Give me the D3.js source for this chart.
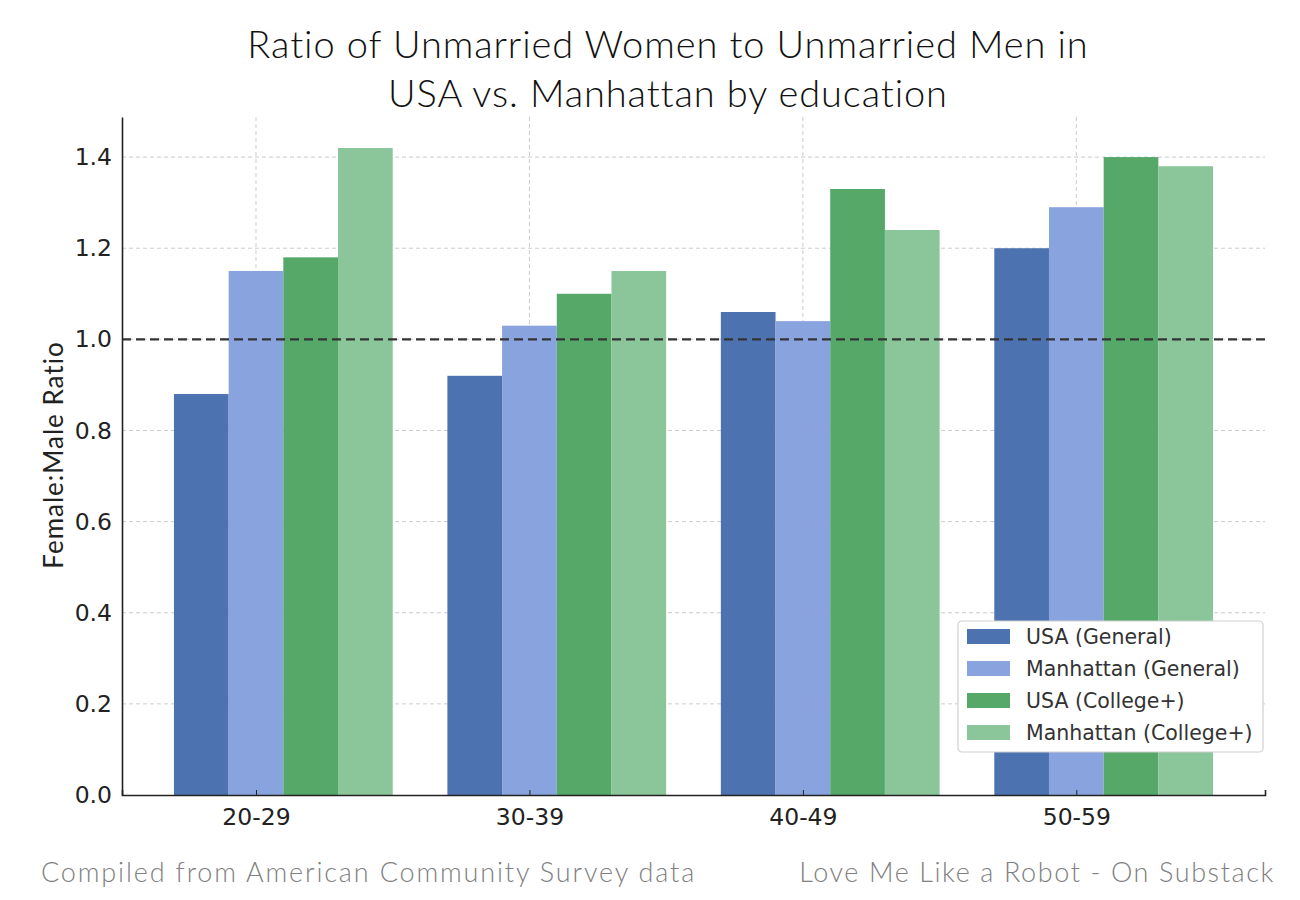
<!DOCTYPE html>
<html>
<head>
<meta charset="utf-8">
<script src="https://cdn.jsdelivr.net/npm/d3@7"></script>
<style>
  body { margin: 0; background: #fff; }
  svg { display: block; }
</style>
</head>
<body>
<div id="chart"></div>
<script>
// data
const ageGroups = ["20-29", "30-39", "40-49", "50-59"];
const seriesNames = ["USA (General)", "Manhattan (General)", "USA (College+)", "Manhattan (College+)"];
const usaGeneral = [0.88, 0.92, 1.06, 1.20];
const manhattanGeneral = [1.15, 1.03, 1.04, 1.29];
const usaCollege = [1.18, 1.10, 1.33, 1.40];
const manhattanCollege = [1.42, 1.15, 1.24, 1.38];
const yTicks = [0.0, 0.2, 0.4, 0.6, 0.8, 1.0, 1.2, 1.4];
const seriesColors = ["#4c72b0", "#89a3de", "#55a868", "#8ac699"];

const allSeries = [usaGeneral, manhattanGeneral, usaCollege, manhattanCollege];

const W = 1300, H = 900;
const margin = { top: 117, right: 35, bottom: 105, left: 122 };
const width = W - margin.left - margin.right;
const height = H - margin.top - margin.bottom;

const svg = d3.select("#chart").append("svg")
    .attr("width", W)
    .attr("height", H);

const g = svg.append("g")
    .attr("transform", `translate(${margin.left}, ${margin.top})`);

// scales
const x = d3.scaleLinear()
    .domain([-0.49, 3.69])
    .range([0, width]);

const y = d3.scaleLinear()
    .domain([0, 1.488])
    .range([height, 0]);

const barW = x(0.2) - x(0);
// bar offsets: tick sits on the second bar's centre
const offsets = [-0.2, 0, 0.2, 0.4];

// grid
g.append("g").selectAll("line")
    .data(yTicks.slice(1))
    .join("line")
    .attr("x1", 0).attr("x2", width)
    .attr("y1", d => y(d)).attr("y2", d => y(d))
    .attr("stroke", "#cccccc")
    .attr("stroke-width", 1)
    .attr("stroke-dasharray", "4,3");

g.append("g").selectAll("line")
    .data(ageGroups)
    .join("line")
    .attr("x1", (d, i) => x(i)).attr("x2", (d, i) => x(i))
    .attr("y1", 0).attr("y2", height)
    .attr("stroke", "#cccccc")
    .attr("stroke-width", 1)
    .attr("stroke-dasharray", "4,3");

// bars
allSeries.forEach((vals, s) => {
    g.append("g").selectAll("rect")
        .data(vals)
        .join("rect")
        .attr("x", (d, i) => x(i + offsets[s]) - barW / 2)
        .attr("y", d => y(d))
        .attr("width", barW)
        .attr("height", d => height - y(d))
        .attr("fill", seriesColors[s]);
});

// reference line at 1.0
g.append("line")
    .attr("x1", 0).attr("x2", width)
    .attr("y1", y(1)).attr("y2", y(1))
    .attr("stroke", "#333")
    .attr("stroke-width", 2.4)
    .attr("stroke-dasharray", "9,5");

// axes
const yAxis = d3.axisLeft(y)
    .tickValues(yTicks)
    .tickFormat(d3.format(".1f"))
    .tickSize(0)
    .tickPadding(10);

const yAxisG = g.append("g").call(yAxis);
yAxisG.select(".domain").attr("stroke", "#222").attr("stroke-width", 1.6);
yAxisG.selectAll("text")
    .attr("font-family", "DejaVu Sans")
    .attr("font-size", 23.5)
    .attr("fill", "#222");

const xAxis = d3.axisBottom(x)
    .tickValues([0, 1, 2, 3])
    .tickFormat(i => ageGroups[i])
    .tickSize(-5)
    .tickPadding(13);

const xAxisG = g.append("g")
    .attr("transform", `translate(0, ${height})`)
    .call(xAxis);
xAxisG.select(".domain").attr("stroke", "#222").attr("stroke-width", 1.6);
xAxisG.selectAll(".tick line").attr("stroke", "#222");
xAxisG.selectAll("text")
    .attr("font-family", "DejaVu Sans")
    .attr("font-size", 23.5)
    .attr("fill", "#222");

// y label
svg.append("text")
    .attr("transform", "rotate(-90)")
    .attr("x", -455)
    .attr("y", 63)
    .attr("text-anchor", "middle")
    .attr("font-family", "Lato")
    .attr("font-size", 26)
    .attr("letter-spacing", 1)
    .attr("fill", "#222")
    .text("Female:Male Ratio");

// title
const titleLines = ["Ratio of Unmarried Women to Unmarried Men in", "USA vs. Manhattan by education"];
svg.append("g").selectAll("text")
    .data(titleLines)
    .join("text")
    .attr("x", 668)
    .attr("y", (d, i) => 58 + i * 49)
    .attr("text-anchor", "middle")
    .attr("font-family", "Lato")
    .attr("font-weight", 300)
    .attr("font-size", 38)
    .attr("letter-spacing", 0.9)
    .attr("fill", "#111")
    .text(d => d);

// legend
const legend = g.append("g")
    .attr("transform", `translate(${958 - margin.left}, ${621 - margin.top})`);

legend.append("rect")
    .attr("width", 305)
    .attr("height", 131)
    .attr("rx", 4)
    .attr("fill", "#fff")
    .attr("stroke", "#d0d0d0")
    .attr("stroke-width", 1.2);

const items = legend.selectAll(".legend-item")
    .data(seriesNames)
    .join("g")
    .attr("class", "legend-item")
    .attr("transform", (d, i) => `translate(0, ${15 + i * 32})`);

items.append("rect")
    .attr("x", 9)
    .attr("y", -7)
    .attr("width", 43)
    .attr("height", 15)
    .attr("fill", (d, i) => seriesColors[i]);

items.append("text")
    .attr("x", 68)
    .attr("y", 8)
    .attr("font-family", "DejaVu Sans")
    .attr("font-size", 20.5)
    .attr("fill", "#333")
    .text(d => d);

// footer
svg.append("text")
    .attr("x", 41)
    .attr("y", 882)
    .attr("font-family", "Lato")
    .attr("font-weight", 300)
    .attr("font-size", 27)
    .attr("letter-spacing", 1.85)
    .attr("fill", "#808080")
    .text("Compiled from American Community Survey data");

svg.append("text")
    .attr("x", 1275)
    .attr("y", 882)
    .attr("text-anchor", "end")
    .attr("font-family", "Lato")
    .attr("font-weight", 300)
    .attr("font-size", 27)
    .attr("letter-spacing", 1.6)
    .attr("fill", "#808080")
    .text("Love Me Like a Robot - On Substack");
</script>
</body>
</html>
